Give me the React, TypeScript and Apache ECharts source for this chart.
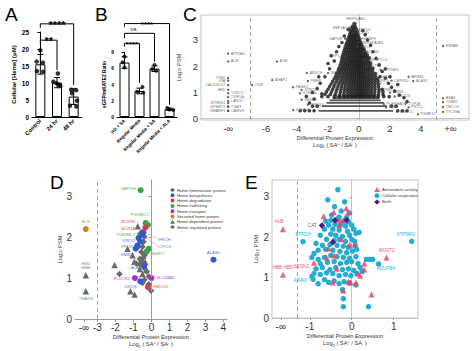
import React, { useEffect, useRef } from "react";
import * as echarts from "echarts";

const FONT = "'Liberation Sans', Arial, Helvetica, sans-serif";

// ---------------- Panel A ----------------
const aCategories = ["Control", "24 hr", "48 hr"];
const aMeans = [15.5, 10.1, 6.0];
const aSD = [2.9, 1.5, 2.3];
const aDotValues = [
  [19.6, 16.3, 16.0, 13.5, 13.3],
  [12.8, 10.4, 9.9, 9.5, 9.1],
  [8.0, 7.9, 7.0, 4.8, 3.3, 3.1],
];
const aDotOffsets = [
  [0.0, -0.22, 0.16, -0.2, 0.17],
  [0.05, -0.22, -0.02, 0.12, 0.2],
  [-0.15, 0.15, -0.1, 0.2, -0.22, 0.16],
];
// [x1, x2, left leg end, bracket level, right leg end]
const aBrackets = [
  [0, 1, 21.3, 22.6, 13.8],
  [0, 2, 26.2, 27.4, 9.4],
];
const aStars = ["**", "****"];
const aStarShift = [0, 0];

// ---------------- Panel B ----------------
const bCategories = ["HD + SA", "Regular Media", "Regular Media + SA", "Regular Media + ALA"];
const bMeans = [6.7, 3.2, 5.95, 0.95];
const bSD = [0.7, 0.35, 0.35, 0.15];
const bDotValues = [
  [7.45, 6.75, 6.1],
  [3.7, 3.1, 3.0],
  [6.4, 5.9, 5.7],
  [1.1, 0.92, 0.85],
];
const bDotOffsets = [
  [0.0, -0.12, 0.0],
  [0.2, -0.15, 0.25],
  [0.0, -0.15, 0.12],
  [-0.15, 0.0, 0.25],
];
const bBrackets = [
  [0, 1, 8.65, 9.07, 4.2],
  [0, 2, 9.7, 10.3, 6.8],
  [0, 3, 11.1, 11.5, 1.5],
];
const bStars = ["****", "ns", "****"];
const bStarShift = [0, -6, 0];

// ---------------- Panel C ----------------
const cNegInf = -8.45;
const cPosInf = 5.9;
const cXTicks = [cNegInf, -6, -4, -2, 0, 2, 4, cPosInf];
const cYTicks = [0, 1, 2, 3];
const cCutoffs = [-7, 5];
const cCloudY = [
  3.62, 3.52, 3.42, 3.32, 3.22, 3.12, 3.02, 2.92, 2.82, 2.72, 2.62, 2.52, 2.42, 2.32,
  2.22, 2.12, 2.02, 1.92, 1.82, 1.72, 1.62, 1.52, 1.42, 1.32, 1.22, 1.12, 1.02, 0.92, 0.84,
];
const cCloudX = [
  [-0.32],
  [-0.42, -0.25],
  [-0.48, -0.33, -0.18],
  [-0.55, -0.4, -0.27, -0.12],
  [-0.6, -0.46, -0.33, -0.21, -0.08],
  [-0.66, -0.52, -0.39, -0.27, -0.15, -0.02],
  [-0.72, -0.58, -0.45, -0.33, -0.21, -0.09, 0.04],
  [-0.78, -0.63, -0.5, -0.38, -0.26, -0.14, -0.02, 0.1],
  [-0.84, -0.69, -0.55, -0.42, -0.3, -0.18, -0.06, 0.06, 0.17],
  [-0.9, -0.74, -0.6, -0.47, -0.34, -0.22, -0.1, 0.02, 0.13, 0.25],
  [-0.95, -0.79, -0.65, -0.51, -0.38, -0.26, -0.14, -0.02, 0.1, 0.22, 0.34],
  [-1.0, -0.84, -0.69, -0.55, -0.42, -0.29, -0.17, -0.05, 0.07, 0.19, 0.31, 0.43],
  [-1.05, -0.89, -0.74, -0.59, -0.46, -0.33, -0.2, -0.08, 0.04, 0.16, 0.28, 0.41, 0.54],
  [-1.1, -0.93, -0.78, -0.63, -0.49, -0.36, -0.23, -0.11, 0.01, 0.13, 0.25, 0.38, 0.52, 0.66],
  [-1.12, -0.95, -0.8, -0.66, -0.53, -0.4, -0.28, -0.16, -0.04, 0.08, 0.2, 0.33, 0.47, 0.62],
  [-1.17, -1.0, -0.85, -0.7, -0.56, -0.43, -0.3, -0.18, -0.06, 0.06, 0.18, 0.31, 0.45, 0.6, 0.75],
  [-1.22, -1.04, -0.88, -0.74, -0.6, -0.46, -0.33, -0.2, -0.08, 0.04, 0.16, 0.29, 0.43, 0.58, 0.74],
  [-1.3, -1.12, -0.95, -0.8, -0.65, -0.5, -0.36, -0.23, -0.1, 0.02, 0.15, 0.28, 0.42, 0.57, 0.72, 0.9],
  [-1.35, -1.17, -1.0, -0.84, -0.68, -0.53, -0.39, -0.25, -0.12, 0.0, 0.13, 0.26, 0.4, 0.55, 0.7, 0.88],
  [-1.45, -1.25, -1.06, -0.88, -0.72, -0.56, -0.42, -0.28, -0.14, -0.01, 0.12, 0.25, 0.39, 0.54, 0.7, 0.87, 1.05],
  [-1.5, -1.3, -1.1, -0.92, -0.75, -0.59, -0.44, -0.3, -0.16, -0.02, 0.11, 0.24, 0.38, 0.53, 0.69, 0.86, 1.05],
  [-1.6, -1.38, -1.16, -0.97, -0.79, -0.62, -0.47, -0.32, -0.18, -0.04, 0.1, 0.23, 0.37, 0.52, 0.68, 0.85, 1.03, 1.2],
  [-1.7, -1.45, -1.22, -1.02, -0.83, -0.65, -0.49, -0.34, -0.19, -0.05, 0.09, 0.22, 0.36, 0.51, 0.67, 0.84, 1.02, 1.22],
  [-1.8, -1.55, -1.3, -1.08, -0.87, -0.68, -0.51, -0.35, -0.2, -0.06, 0.08, 0.21, 0.35, 0.5, 0.66, 0.83, 1.02, 1.24],
  [-1.9, -1.62, -1.36, -1.12, -0.9, -0.7, -0.53, -0.37, -0.21, -0.07, 0.07, 0.2, 0.34, 0.49, 0.65, 0.83, 1.03, 1.26],
  [-2.0, -1.7, -1.42, -1.16, -0.93, -0.73, -0.55, -0.38, -0.22, -0.08, 0.06, 0.19, 0.33, 0.48, 0.64, 0.82, 1.03, 1.28, 1.5],
  [-2.1, -1.78, -1.48, -1.2, -0.96, -0.75, -0.57, -0.4, -0.24, -0.09, 0.05, 0.18, 0.32, 0.47, 0.63, 0.81, 1.02, 1.28, 1.55],
  [-2.2, -1.85, -1.53, -1.24, -0.99, -0.77, -0.58, -0.41, -0.25, -0.1, 0.04, 0.17, 0.31, 0.46, 0.62, 0.8, 1.0, 1.25, 1.55],
  [-2.4, -2.0, -1.6, -1.25, -0.95, -0.7, -0.48, -0.28, -0.1, 0.08, 0.25, 0.45, 0.68, 0.95, 1.25, 1.6, 1.95],
];
const cSparse = [
  [-1.45, 2.55], [-1.3, 2.75], [-1.6, 2.2], [-1.9, 1.9], [-2.2, 1.6], [-2.5, 1.35], [-2.7, 1.15],
  [-3.0, 1.0], [-3.4, 0.85], [-2.4, 0.95], [-2.9, 0.75], [-3.2, 0.6], [-2.6, 1.6], [-1.8, 2.4],
  [-2.0, 2.1], [0.9, 2.55], [0.75, 2.8], [1.1, 2.3], [1.3, 2.05], [1.5, 1.8], [1.7, 1.55],
  [1.9, 1.35], [2.1, 1.2], [2.3, 1.05], [2.6, 0.9], [2.9, 0.8], [1.7, 1.9], [2.0, 1.6],
  [1.35, 1.6], [2.5, 1.3], [3.1, 0.65], [0.55, 3.0], [0.4, 3.2], [-1.1, 2.9], [-0.95, 3.15],
  [0.25, 3.35], [-0.7, 3.4], [-3.8, 0.301], [-3.5, 0.301], [-3.2, 0.301], [-2.9, 0.301],
  [2.5, 0.301], [2.8, 0.301], [3.1, 0.301], [-3.0, 0.477], [-2.7, 0.477], [2.1, 0.477], [2.4, 0.477],
];
// [y, xmin, xmax] rows of low-PSM proteins
const cBands = [
  [0.301, -2.6, 2.2],
  [0.477, -2.4, 1.8],
  [0.602, -2.1, 1.6],
  [0.699, -1.9, 1.4],
  [0.778, -1.7, 1.3],
  [0.845, -1.5, 1.2],
];
const cGenes: [string, number, number][] = [
  ["ATP1A3", cNegInf, 2.48], ["ALB", cNegInf, 2.18], ["ITIH2", cNegInf, 1.55], ["LPA", cNegInf, 1.45],
  ["CACDXLD1", cNegInf, 1.28], ["HBD", cNegInf, 1.1], ["TXSC1", cNegInf, 0.97], ["TVIF1A", cNegInf, 0.82],
  ["LARG7", cNegInf, 0.67], ["NTRES1", cNegInf, 0.6], ["GPHBT2", cNegInf, 0.46], ["TGM3", cNegInf, 0.46],
  ["SMARF1", cNegInf, 0.3], ["CAMVK", cNegInf, 0.3],
  ["CKM", -6.9, 1.28], ["A2M", -5.3, 2.18], ["ASAP2", -5.6, 1.47], ["ARVCF", -3.37, 1.74], ["INF2", -2.0, 1.74],
  ["PMEP", -3.3, 1.43], ["PANK2", -4.25, 1.2], ["STN2CC", -3.7, 1.09], ["SYNRG", -3.8, 0.97],
  ["FBXO6", -3.7, 0.72], ["CREB3", -3.3, 0.53], ["KDM6B", -4.25, 0.33],
  ["HSP90AB1", -0.2, 3.62], ["EEF1A1", -0.6, 3.46], ["HSPD1", -0.25, 3.37], ["ACTG1", -0.35, 3.26],
  ["GAPDH", -0.9, 3.05], ["HNRNPK", -0.1, 3.05], ["HNRNPA2B1", -0.05, 2.9], ["ENO1", -0.1, 2.75],
  ["ACTN2", 0.3, 2.54], ["ARPC4", -0.9, 2.38], ["HNRNPCL1", 0.35, 2.23], ["CCT6B", 0.45, 2.01],
  ["ATP5MG", 1.4, 1.86], ["TCP1", 0.45, 1.7], ["CDK15", 1.0, 1.6], ["CSRP2", 0.9, 1.45],
  ["CEP350", 2.1, 1.45], ["ARRB1", 3.2, 1.6], ["ALAS1", 3.5, 1.43], ["NPE", 0.8, 1.31],
  ["IRE1", 1.45, 1.09], ["CNN3", 2.0, 1.0], ["ABCD3", 2.3, 0.85], ["PLEKHA6", 1.6, 0.55],
  ["TOP2B", 3.0, 0.57], ["FEZL", 1.75, 0.43], ["PSTL1", 3.2, 0.43], ["MEDOC", 2.45, 0.27],
  ["PSMF12", 3.8, 0.17],
  ["HSPA8", 5.42, 2.77], ["ASA2", 5.42, 0.78], ["TUBE1", 5.42, 0.63], ["TMCO4", 5.42, 0.44], ["TTC39A", 5.42, 0.26],
];
const cLeftLabels = ["ITIH2", "LPA", "CACDXLD1", "HBD", "NTRES1", "GPHBT2", "SMARF1", "EEF1A1", "GAPDH", "ARPC4"];
const cTopLabels = ["HSP90AB1"];

// ---------------- Panel D ----------------
const dNegInf = -3.75;
const dXTicks = [dNegInf, -3, -2, -1, 0, 1, 2, 3, 4];
const dYTicks = [0, 1, 2, 3];
const dCutoffs = [-3, 0];
const dGroups = [
  "Heme homeostatic protein", "Heme biosynthesis", "Heme degradation", "Heme trafficking",
  "Heme transport", "Secreted heme protein", "Heme dependent protein", "Heme regulated protein",
];
const dHomeostatic: [string, number, number][] = [];
const dBiosynthesis: [string, number, number][] = [
  ["UROD", -0.72, 1.98], ["PPOX", -0.78, 1.8], ["HMBS", -0.88, 1.72], ["FECH", -0.45, 2.12],
  ["CPOX", -0.52, 2.05], ["ALAD", -0.4, 1.3], ["UROS", -0.62, 0.92], ["ALAS1", 3.45, 1.45],
  ["", -0.62, 1.9], ["", -0.8, 1.76],
];
const dDegradation: [string, number, number][] = [
  ["BLVRB", -0.33, 2.24], ["BLVRA", -0.52, 2.12], ["HMOX1", -0.2, 0.78],
];
const dTrafficking: [string, number, number][] = [
  ["GAPDH", -0.6, 3.15], ["PGRMC1", -0.32, 2.35], ["PGRMC2", -0.62, 2.07], ["HEBP1", -0.15, 1.72],
  ["", -0.2, 2.3], ["", -0.25, 1.66],
];
const dTransport: [string, number, number][] = [
  ["FLVCR1", -0.92, 1.0], ["SLC48A1", 0.0, 1.0],
];
const dSecreted: [string, number, number][] = [["ALB", -3.65, 2.2]];
const dDependent: [string, number, number][] = [
  ["HBD\nHBB", -3.65, 1.07], ["THAP4", -3.65, 0.68],
  ["", -2.05, 1.32], ["", -1.33, 1.72], ["", -0.76, 2.27], ["", -1.05, 1.56], ["", -0.95, 1.4],
  ["", -0.65, 1.22], ["", -0.5, 1.1], ["", -1.17, 0.68], ["", -0.94, 0.6], ["", -0.55, 1.45],
  ["", -0.35, 1.4], ["", -0.3, 1.2], ["", -0.45, 1.55],
];
const dRegulated: [string, number, number][] = [
  ["", -1.78, 1.1], ["", -0.39, 2.01], ["", -0.44, 1.89], ["", -0.5, 1.77], ["", -0.56, 1.64],
  ["", -0.65, 1.47], ["", -0.83, 1.35], ["", -0.5, 1.42], ["", -0.4, 1.55], ["", -0.3, 1.62],
  ["", -0.39, 1.24], ["", -0.26, 1.16], ["", -0.15, 1.04], ["", -0.39, 0.96], ["", -0.5, 0.88],
  ["", -0.02, 0.69], ["", -0.15, 0.85], ["", -0.6, 1.32],
];
const dLabelPos: Record<string, string> = {
  GAPDH: "left", ALB: "top", "HBD\nHBB": "top", THAP4: "bottom", ALAS1: "top", PGRMC1: "top",
  BLVRB: "left", BLVRA: "left", PGRMC2: "left", UROD: "left", PPOX: "left", HMBS: "left",
  FECH: "right", CPOX: "right", HEBP1: "right", ALAD: "left", SLC48A1: "right", FLVCR1: "left",
  UROS: "left", HMOX1: "right",
};
// label nudges in pixels [dx, dy]
const dLabelShift: Record<string, number[]> = {
  GAPDH: [0, -2], PGRMC1: [-6, -1], BLVRB: [-5.5, -6], BLVRA: [-2, -3.8], PGRMC2: [0, 0.1],
  UROD: [1.5, 2.6], PPOX: [0.5, 1.4], HMBS: [2.3, 6], HEBP1: [-3.5, 5.3], ALAD: [2.7, 2],
  SLC48A1: [0, -1], FLVCR1: [0, 0], UROS: [1.7, 5.4], HMOX1: [0, -1],
  FECH: [10.6, 6.7], CPOX: [12, 11.8],
};
const dLeaders = ["FECH", "CPOX"];

// ---------------- Panel E ----------------
const eNegInf = -1.69;
const eXTicks = [eNegInf, -1, 0, 1];
const eYTicks = [0, 1, 2, 3];
const eCutoffs = [-1.31];
const eGroups = ["Antioxidant activity", "Cellular respiration", "Both"];
const eAntioxidant: [string, number, number][] = [
  ["ALB", -1.64, 2.2], ["HBB HBD", -1.64, 1.07], ["SESN2", -0.9, 1.37], ["MGST2", 0.83, 1.5],
  ["", -0.67, 2.52], ["", -0.43, 2.62], ["", -0.13, 2.72], ["", -0.08, 2.63], ["", -0.3, 2.42],
  ["", -0.2, 2.42], ["", -0.6, 1.5], ["", -0.42, 1.55], ["", -0.05, 1.82], ["", 0.3, 1.35],
  ["", 0.3, 1.2], ["", 0.2, 1.05], ["", 0.1, 0.88], ["", -0.45, 0.88], ["", -0.08, 0.9],
  ["", -0.03, 0.88], ["", -0.2, 0.68], ["", 0.47, 0.58], ["", -0.55, 1.72], ["", -0.3, 2.3],
  ["", -0.35, 1.22], ["", 0.15, 1.1], ["", -0.25, 1.95], ["", 0.08, 1.82],
];
const eRespiration: [string, number, number][] = [
  ["ETFDH", -1.16, 1.89], ["AIFM2", -0.95, 1.03], ["ATP5MG", 1.43, 1.9], ["NDUFB4", 0.64, 1.34],
  ["", -0.33, 3.18], ["", -0.57, 2.93], ["", -0.17, 2.88], ["", -0.41, 2.76], ["", -0.25, 2.65],
  ["", -0.05, 2.6], ["", -0.48, 2.55], ["", -0.3, 2.5], ["", -0.12, 2.5], ["", -0.62, 2.4],
  ["", -0.5, 2.42], ["", -0.35, 2.45], ["", -0.2, 2.4], ["", -0.08, 2.38], ["", -0.55, 2.3],
  ["", -0.4, 2.32], ["", -0.27, 2.3], ["", -0.15, 2.28], ["", 0.0, 2.3], ["", -0.65, 2.2],
  ["", -0.45, 2.2], ["", -0.3, 2.18], ["", -0.1, 2.15], ["", 0.05, 2.2], ["", -0.75, 2.05],
  ["", -0.5, 2.08], ["", -0.38, 2.05], ["", -0.22, 2.02], ["", -0.05, 2.05], ["", 0.1, 2.1],
  ["", 0.18, 2.12], ["", -0.6, 1.95], ["", -0.42, 1.92], ["", -0.3, 1.95], ["", -0.15, 1.9],
  ["", 0.0, 1.95], ["", 0.07, 1.9], ["", -0.85, 1.85], ["", -0.7, 1.8], ["", -0.52, 1.82],
  ["", -0.35, 1.8], ["", -0.2, 1.78], ["", -0.08, 1.75], ["", 0.08, 1.8], ["", -0.8, 1.68],
  ["", -0.62, 1.7], ["", -0.45, 1.68], ["", -0.28, 1.65], ["", -0.12, 1.62], ["", 0.02, 1.66],
  ["", 0.12, 1.7], ["", -0.9, 1.6], ["", -0.95, 1.5], ["", -0.8, 1.45], ["", -0.65, 1.5],
  ["", -0.5, 1.55], ["", -0.35, 1.52], ["", -0.2, 1.5], ["", -0.05, 1.48], ["", 0.1, 1.52],
  ["", -0.75, 1.35], ["", -0.58, 1.38], ["", -0.42, 1.4], ["", -0.27, 1.35], ["", -0.12, 1.38],
  ["", 0.0, 1.4], ["", 0.15, 1.35], ["", 0.35, 1.45], ["", 0.43, 1.45], ["", 0.5, 1.45],
  ["", -0.85, 1.22], ["", -0.7, 1.25], ["", -0.52, 1.2], ["", -0.38, 1.25], ["", -0.22, 1.2],
  ["", -0.08, 1.22], ["", 0.05, 1.18], ["", 0.2, 1.25], ["", -0.9, 1.1], ["", -0.75, 1.08],
  ["", -0.6, 1.12], ["", -0.45, 1.1], ["", -0.3, 1.05], ["", -0.15, 1.08], ["", -0.02, 1.05],
  ["", 0.12, 1.1], ["", 0.25, 1.15], ["", -0.92, 0.96], ["", -0.8, 0.85], ["", -0.65, 0.95],
  ["", -0.55, 0.88], ["", -0.42, 0.92], ["", -0.3, 0.85], ["", -0.18, 0.9], ["", -0.05, 0.87],
  ["", 0.1, 0.82], ["", -0.22, 0.7], ["", -0.2, 0.48], ["", -0.2, 0.28], ["", 0.4, 0.28],
];
const eBoth: [string, number, number][] = [
  ["CAT", -0.71, 2.29], ["", -0.4, 2.42], ["", -0.12, 2.43], ["", -0.45, 1.88],
];
const eLabelPos: Record<string, string> = {
  ALB: "top", "HBB HBD": "top", SESN2: "left", MGST2: "top", ETFDH: "top", AIFM2: "left",
  ATP5MG: "top", NDUFB4: "bottom", CAT: "left",
};
const eLabelShift: Record<string, number[]> = {
  ALB: [-4, 0], SESN2: [0, 4], AIFM2: [0, 4], ATP5MG: [-6, 0], NDUFB4: [7, -2],
};

// ---------------- helpers ----------------
const near = (a: number, b: number) => Math.abs(a - b) < 1e-6;

const errRender = (_p: any, api: any) => {
  const x = api.value(0);
  const lo = api.coord([x, api.value(1)]);
  const hi = api.coord([x, api.value(2)]);
  const w = 3;
  const st = { stroke: "#000", fill: "none", lineWidth: 1 };
  return {
    type: "group",
    children: [
      { type: "line", shape: { x1: lo[0], y1: lo[1], x2: hi[0], y2: hi[1] }, style: st },
      { type: "line", shape: { x1: hi[0] - w, y1: hi[1], x2: hi[0] + w, y2: hi[1] }, style: st },
      { type: "line", shape: { x1: lo[0] - w, y1: lo[1], x2: lo[0] + w, y2: lo[1] }, style: st },
    ],
  };
};

const makeBracketRender = (texts: string[], shifts: number[], starSize: number) => (params: any, api: any) => {
  const x1 = api.value(0);
  const x2 = api.value(1);
  const pL = api.coord([x1, api.value(2)]);
  const pT1 = api.coord([x1, api.value(3)]);
  const pT2 = api.coord([x2, api.value(3)]);
  const pR = api.coord([x2, api.value(4)]);
  const txt = texts[params.dataIndex];
  const isStar = txt.indexOf("*") >= 0;
  return {
    type: "group",
    children: [
      {
        type: "polyline",
        shape: { points: [pL, pT1, pT2, pR] },
        style: { stroke: "#000", fill: "none", lineWidth: 1 },
      },
      {
        type: "text",
        x: (pT1[0] + pT2[0]) / 2 + shifts[params.dataIndex],
        y: isStar ? pT1[1] + starSize * 0.12 : pT1[1] - 1,
        style: {
          text: txt, fill: "#000", stroke: "none", fontFamily: FONT,
          fontSize: isStar ? starSize : 5.5, fontWeight: isStar ? "bold" : "normal",
          align: "center", verticalAlign: isStar ? "middle" : "bottom",
        },
      },
    ],
  };
};

const bandRender = (_p: any, api: any) => {
  const a = api.coord([api.value(1), api.value(0)]);
  const b = api.coord([api.value(2), api.value(0)]);
  return {
    type: "line",
    shape: { x1: a[0], y1: a[1], x2: b[0], y2: b[1] },
    style: { stroke: "#3a3a3a", fill: "none", lineWidth: 1.8, opacity: 0.85 },
  };
};

const nameRich = {
  t: { fontSize: 5.7, fontFamily: FONT, color: "#333" },
  s: { fontSize: 4, fontFamily: FONT, color: "#333", verticalAlign: "bottom" },
  p: { fontSize: 4, fontFamily: FONT, color: "#333", verticalAlign: "top" },
};
const xTitle = "Differential Protein Expression\n{t|Log}{s|2}{t| ( SA}{p|+}{t| / SA}{p|-}{t| )}";
const yTitle = "{t|Log}{s|10}{t| PSM}";

function barPanel(
  xCat: number, xVal: number, yi: number,
  means: number[], sd: number[], dots: number[][], offs: number[][],
  brackets: number[][], stars: string[], starShift: number[], dotSize: number, starSize: number,
) {
  const s: any[] = [];
  s.push({
    type: "bar", xAxisIndex: xCat, yAxisIndex: yi, data: means, barWidth: 10, silent: true,
    itemStyle: { color: "#fff", borderColor: "#000", borderWidth: 1 },
  });
  s.push({
    type: "custom", xAxisIndex: xVal, yAxisIndex: yi, renderItem: errRender, z: 3,
    itemStyle: { color: "#000" },
    encode: { x: 0, y: [1, 2] },
    data: means.map((m, i) => [i, m - sd[i], m + sd[i]]),
  });
  s.push({
    type: "scatter", xAxisIndex: xVal, yAxisIndex: yi, symbolSize: dotSize, z: 4,
    itemStyle: { color: "#000" },
    data: dots.flatMap((vals, i) => vals.map((v, j) => [i + offs[i][j], v])),
  });
  s.push({
    type: "custom", xAxisIndex: xVal, yAxisIndex: yi, clip: false, silent: true, z: 5,
    itemStyle: { color: "#000" },
    renderItem: makeBracketRender(stars, starShift, starSize),
    encode: { x: [0, 1], y: [2, 3, 4] },
    data: brackets,
  });
  return s;
}

function pointSeries(
  name: string, pts: [string, number, number][], xi: number, yi: number,
  symbol: string, color: string, size: number, labelColor: string, fontSize: number,
  pos: Record<string, string>, shift: Record<string, number[]>, leaders: string[] = [],
  opacity = 1, extra: any = {},
) {
  return {
    type: "scatter", name, xAxisIndex: xi, yAxisIndex: yi, symbol, symbolSize: size,
    itemStyle: { color, opacity },
    labelLayout: (p: any) => {
      const s = shift[pts[p.dataIndex][0]];
      return s ? { dx: s[0], dy: s[1] } : {};
    },
    data: pts.map(([n, x, y]) => ({
      name: n, value: [x, y],
      label: n
        ? {
          show: true, formatter: "{b}", position: pos[n] || "right", distance: 2,
          fontSize, color: labelColor, opacity: 1, fontFamily: FONT, lineHeight: fontSize,
        }
        : { show: false },
      labelLine: leaders.includes(n)
        ? { show: true, lineStyle: { color: "#f0a0a8", width: 0.7 } }
        : { show: false },
    })),
    ...extra,
  };
}

function buildOption(): any {
  const axisBlack = { lineStyle: { color: "#000", width: 1 } };
  const grids = [
    { left: 32, top: 32, width: 50, height: 85 },
    { left: 117, top: 52, width: 60, height: 65 },
    { left: 201, top: 15, width: 268, height: 105, show: true, borderColor: "#c4c4c4", borderWidth: 1 },
    { left: 75, top: 180, width: 152, height: 139 },
    { left: 272, top: 180, width: 146, height: 138, show: true, borderColor: "#c4c4c4", borderWidth: 1 },
  ];

  const xAxes: any[] = [
    {
      type: "category", gridIndex: 0, data: aCategories, axisLine: axisBlack,
      axisTick: { alignWithLabel: true, length: 3, lineStyle: { color: "#000" } },
      axisLabel: { rotate: 45, interval: 0, fontSize: 5.8, fontWeight: "bold", color: "#000", fontFamily: FONT, margin: 3 },
    },
    { type: "value", gridIndex: 0, min: -0.5, max: 2.5, show: false },
    {
      type: "category", gridIndex: 1, data: bCategories, axisLine: axisBlack,
      axisTick: { alignWithLabel: true, length: 3, lineStyle: { color: "#000" } },
      axisLabel: { rotate: 45, interval: 0, fontSize: 4.6, fontWeight: "bold", color: "#000", fontFamily: FONT, margin: 3 },
    },
    { type: "value", gridIndex: 1, min: -0.5, max: 3.5, show: false },
    {
      type: "value", gridIndex: 2, min: -10.2, max: 7.1, splitLine: { show: false },
      axisLine: { lineStyle: { color: "#c4c4c4" } }, axisTick: { show: false },
      axisLabel: {
        customValues: cXTicks, fontSize: 9.5, color: "#333", fontFamily: FONT, margin: 3,
        formatter: (v: number) => (near(v, cNegInf) ? "-∞" : near(v, cPosInf) ? "+∞" : String(v)),
      },
      name: xTitle, nameLocation: "middle", nameGap: 11,
      nameTextStyle: { fontSize: 5.7, color: "#333", fontFamily: FONT, lineHeight: 7.5, rich: nameRich },
    },
    {
      type: "value", gridIndex: 3, min: -4.25, max: 4.2, splitLine: { show: false },
      axisLine: { lineStyle: { color: "#9a9a9a" } },
      axisTick: { show: true, customValues: dXTicks, length: 3, lineStyle: { color: "#9a9a9a" } },
      axisLabel: {
        customValues: dXTicks, fontSize: 10, color: "#333", fontFamily: FONT, margin: 3,
        formatter: (v: number) => (near(v, dNegInf) ? "-∞" : String(v)),
      },
      name: xTitle, nameLocation: "middle", nameGap: 14,
      nameTextStyle: { fontSize: 5.7, color: "#333", fontFamily: FONT, lineHeight: 7.5, rich: nameRich },
    },
    {
      type: "value", gridIndex: 4, min: -1.9, max: 1.58, splitLine: { show: false },
      axisLine: { lineStyle: { color: "#c4c4c4" } },
      axisTick: { show: true, customValues: eXTicks, length: 2, lineStyle: { color: "#999" } },
      axisLabel: {
        customValues: eXTicks, fontSize: 10, color: "#333", fontFamily: FONT, margin: 3,
        formatter: (v: number) => (near(v, eNegInf) ? "-∞" : String(v)),
      },
      name: xTitle, nameLocation: "middle", nameGap: 14,
      nameTextStyle: { fontSize: 5.7, color: "#333", fontFamily: FONT, lineHeight: 7.5, rich: nameRich },
    },
  ];

  const yAxes: any[] = [
    {
      type: "value", gridIndex: 0, min: 0, max: 25, interval: 5, splitLine: { show: false },
      axisLine: { show: true, ...axisBlack }, axisTick: { show: true, length: 3, lineStyle: { color: "#000" } },
      axisLabel: { fontSize: 6.5, fontWeight: "bold", color: "#000", fontFamily: FONT, margin: 3 },
      name: "Cellular [Heme] (μM)", nameLocation: "middle", nameGap: 15,
      nameTextStyle: { fontSize: 6, fontWeight: "bold", color: "#000", fontFamily: FONT },
    },
    {
      type: "value", gridIndex: 1, min: 0, max: 8, interval: 2, splitLine: { show: false },
      axisLine: { show: true, ...axisBlack }, axisTick: { show: true, length: 3, lineStyle: { color: "#000" } },
      axisLabel: { fontSize: 5, fontWeight: "bold", color: "#000", fontFamily: FONT, margin: 3 },
      name: "eGFP/mKATE2 Ratio", nameLocation: "middle", nameGap: 9,
      nameTextStyle: { fontSize: 4.8, fontWeight: "bold", color: "#000", fontFamily: FONT },
    },
    {
      type: "value", gridIndex: 2, min: -0.05, max: 3.95, splitLine: { show: false },
      axisLine: { show: true, lineStyle: { color: "#c4c4c4" } },
      axisTick: { show: true, customValues: cYTicks, length: 2, lineStyle: { color: "#999" } },
      axisLabel: { customValues: cYTicks, fontSize: 9.5, color: "#333", fontFamily: FONT, margin: 3 },
      name: yTitle, nameLocation: "middle", nameGap: 10,
      nameTextStyle: { fontSize: 5.7, color: "#333", fontFamily: FONT, rich: nameRich },
    },
    {
      type: "value", gridIndex: 3, min: 0, max: 3.4, splitLine: { show: false },
      axisLine: { show: true, lineStyle: { color: "#9a9a9a" } },
      axisTick: { show: true, customValues: dYTicks, length: 3, lineStyle: { color: "#9a9a9a" } },
      axisLabel: { customValues: dYTicks, fontSize: 10, color: "#333", fontFamily: FONT, margin: 3 },
      name: yTitle, nameLocation: "middle", nameGap: 12,
      nameTextStyle: { fontSize: 5.7, color: "#333", fontFamily: FONT, rich: nameRich },
    },
    {
      type: "value", gridIndex: 4, min: 0, max: 3.42, splitLine: { show: false },
      axisLine: { show: true, lineStyle: { color: "#c4c4c4" } },
      axisTick: { show: true, customValues: eYTicks, length: 2, lineStyle: { color: "#999" } },
      axisLabel: { customValues: eYTicks, fontSize: 10, color: "#333", fontFamily: FONT, margin: 3 },
      name: yTitle, nameLocation: "middle", nameGap: 13,
      nameTextStyle: { fontSize: 5.7, color: "#333", fontFamily: FONT, rich: nameRich },
    },
  ];

  const dashed = (xi: number[]) => ({
    silent: true, symbol: ["none", "none"], label: { show: false },
    lineStyle: { type: [4, 3], color: "#a0a0a0", width: 1 },
    data: xi.map((v) => ({ xAxis: v })),
  });

  const series: any[] = [];
  series.push(...barPanel(0, 1, 0, aMeans, aSD, aDotValues, aDotOffsets, aBrackets, aStars, aStarShift, 4.5, 11));
  series.push(...barPanel(2, 3, 1, bMeans, bSD, bDotValues, bDotOffsets, bBrackets, bStars, bStarShift, 4, 8));

  // Panel C
  const cloud: number[][] = [];
  cCloudY.forEach((y, r) => cCloudX[r].forEach((x) => cloud.push([x, y])));
  cSparse.forEach((p) => cloud.push(p));
  series.push({
    type: "scatter", xAxisIndex: 4, yAxisIndex: 2, symbolSize: 3.6, silent: true,
    itemStyle: { color: "#1a1a1a", opacity: 0.82 }, data: cloud,
    markLine: dashed(cCutoffs),
  });
  series.push({
    type: "custom", xAxisIndex: 4, yAxisIndex: 2, renderItem: bandRender, silent: true,
    itemStyle: { color: "#3a3a3a" },
    encode: { x: [1, 2], y: 0 }, data: cBands,
  });
  series.push({
    type: "scatter", xAxisIndex: 4, yAxisIndex: 2, symbolSize: 2.4, silent: true,
    itemStyle: { color: "#444" },
    data: cGenes.map(([n, x, y]) => ({
      name: n, value: [x, y],
      label: {
        show: true, formatter: "{b}", distance: 1.5, fontSize: 3.8, color: "#444", fontFamily: FONT,
        position: cTopLabels.includes(n) ? "top" : cLeftLabels.includes(n) ? "left" : "right",
      },
    })),
  });

  // Panel D
  const fs = 4.3;
  const dp = dLabelPos;
  const dsh = dLabelShift;
  series.push(pointSeries(dGroups[0], dHomeostatic, 5, 3, "diamond", "#5a5a5a", 6, "#666", fs, dp, dsh));
  series.push(pointSeries(dGroups[7], dRegulated, 5, 3, "diamond", "#6b6b6b", 6.5, "#777", fs, dp, dsh, [], 1, { markLine: dashed(dCutoffs) }));
  series.push(pointSeries(dGroups[6], dDependent, 5, 3, "triangle", "#6b6b6b", 6.5, "#8a8a8a", fs, dp, dsh));
  series.push(pointSeries(dGroups[5], dSecreted, 5, 3, "circle", "#c8862a", 6, "#d4923a", fs, dp, dsh));
  series.push(pointSeries(dGroups[3], dTrafficking, 5, 3, "circle", "#3aa34a", 6, "#4cb85a", fs, dp, dsh));
  series.push(pointSeries(dGroups[2], dDegradation, 5, 3, "circle", "#d23c44", 6, "#dc4e55", fs, dp, dsh));
  series.push(pointSeries(dGroups[1], dBiosynthesis, 5, 3, "circle", "#3558cc", 6, "#5577dd", fs, dp, dsh, dLeaders));
  series.push(pointSeries(dGroups[4], dTransport, 5, 3, "circle", "#a232d2", 6, "#a844d8", fs, dp, dsh));

  // Panel E
  series.push(pointSeries(eGroups[1], eRespiration, 6, 4, "circle", "#25acd3", 5.5, "#2cb3d8", 4.6, eLabelPos, eLabelShift, [], 1, { markLine: dashed(eCutoffs) }));
  series.push(pointSeries(eGroups[0], eAntioxidant, 6, 4, "triangle", "#e8456c", 6, "#ea5a7c", 4.6, eLabelPos, eLabelShift, [], 0.85));
  series.push(pointSeries(eGroups[2], eBoth, 6, 4, "diamond", "#4c1d84", 6.5, "#7a3fb8", 4.6, eLabelPos, eLabelShift));

  const legendText = { fontSize: 4.2, color: "#333", fontFamily: FONT, padding: [0, 0, 0, -3] };
  const legends = [
    {
      left: 165, top: 183, orient: "vertical", itemWidth: 5, itemHeight: 4, itemGap: 1.3,
      selectedMode: false, textStyle: legendText, data: dGroups,
    },
    {
      left: 369, top: 182, orient: "vertical", itemWidth: 6, itemHeight: 5, itemGap: 1.2,
      selectedMode: false, textStyle: { ...legendText, fontSize: 4.3 }, data: eGroups,
    },
  ];

  const letter = (t: string, x: number, y: number) => ({
    type: "text", left: x, top: y,
    style: { text: t, fontSize: 19, fontFamily: FONT, fill: "#000" },
  });

  return {
    animation: false,
    backgroundColor: "#fff",
    color: ["#000000"],
    textStyle: { fontFamily: FONT },
    grid: grids,
    xAxis: xAxes,
    yAxis: yAxes,
    legend: legends,
    series,
    graphic: [
      letter("A", 5, 5), letter("B", 95, 5), letter("C", 183, 5),
      letter("D", 50, 173), letter("E", 245, 173),
    ],
  };
}

export default function App() {
  const ref = useRef<HTMLDivElement>(null);
  useEffect(() => {
    const chart = echarts.init(ref.current as HTMLDivElement, null, { renderer: "svg" });
    chart.setOption(buildOption());
    return () => chart.dispose();
  }, []);
  return (
    <div
      ref={ref}
      style={{ position: "absolute", left: 0, top: 0, width: 474, height: 351, background: "#fff" }}
    />
  );
}
